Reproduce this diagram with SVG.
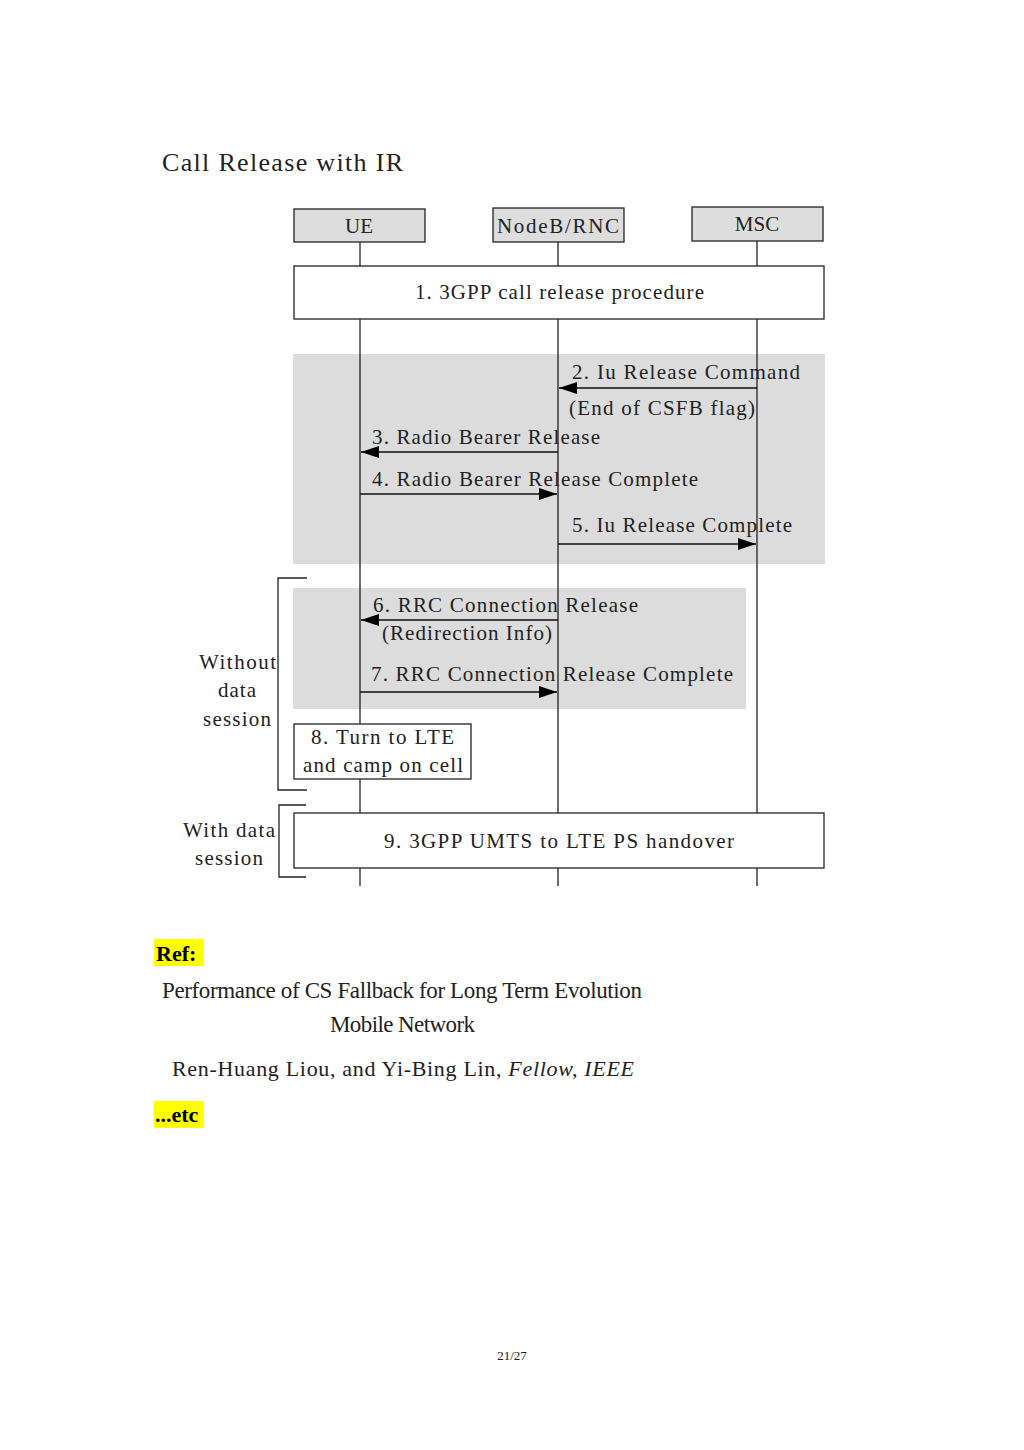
<svg xmlns="http://www.w3.org/2000/svg" width="1024" height="1450" viewBox="0 0 1024 1450">
<defs>
<marker id="ah" markerWidth="20" markerHeight="12" refX="18" refY="6" orient="auto" markerUnits="userSpaceOnUse"><path d="M0,0 L18,6 L0,12 Z" fill="#000"/></marker>
<style>
text{font-family:"Liberation Serif","DejaVu Serif",serif;fill:#222}
.t{font-size:21px}
.box{fill:#fff;stroke:#222;stroke-width:1.3}
.hd{fill:#ddd;stroke:#222;stroke-width:1.3}
.ll{stroke:#222;stroke-width:1.3;fill:none}
.msg{stroke:#111;stroke-width:1.3;marker-end:url(#ah)}
.gr{fill:#dcdcdc}
.hl{fill:#ffff00}
</style>
</defs>
<rect width="1024" height="1450" fill="#fff"/>
<text x="162" y="171" font-size="26" textLength="241">Call Release with IR</text>
<rect class="gr" x="293" y="354" width="532" height="210"/>
<rect class="gr" x="293" y="588" width="453" height="121"/>
<g id="lifelines">
<path class="ll" d="M360 242V266M360 319V724M360 779V813M360 868V886"/>
<path class="ll" d="M558 242V266M558 319V813M558 868V886"/>
<path class="ll" d="M757 241V266M757 319V813M757 868V886"/>
</g>
<g id="UE"><rect class="hd" x="294" y="209" width="131" height="33"/><text class="t" x="359" y="233" text-anchor="middle">UE</text></g>
<g id="NodeB"><rect class="hd" x="493" y="208" width="131" height="34"/><text class="t" x="497" y="233" textLength="122">NodeB/RNC</text></g>
<g id="MSC"><rect class="hd" x="692" y="207" width="131" height="34"/><text class="t" x="757" y="231" text-anchor="middle">MSC</text></g>
<g id="step1"><rect class="box" x="294" y="266" width="530" height="53"/><text class="t" x="415" y="299" textLength="289">1. 3GPP call release procedure</text></g>
<g id="step8"><rect class="box" x="294" y="724" width="177" height="55"/><text class="t" x="311" y="744" textLength="143">8. Turn to LTE</text><text class="t" x="303" y="772" textLength="160">and camp on cell</text></g>
<g id="step9"><rect class="box" x="294" y="813" width="530" height="55"/><text class="t" x="384" y="848" textLength="350">9. 3GPP UMTS to LTE PS handover</text></g>
<g id="connectors">
<line class="msg" x1="757" y1="388" x2="559" y2="388"/>
<line class="msg" x1="558" y1="452" x2="361" y2="452"/>
<line class="msg" x1="360" y1="494" x2="557" y2="494"/>
<line class="msg" x1="558" y1="544" x2="756" y2="544"/>
<line class="msg" x1="558" y1="620" x2="361" y2="620"/>
<line class="msg" x1="360" y1="692" x2="557" y2="692"/>
</g>
<g id="labels">
<text class="t" x="572" y="379" textLength="228">2. Iu Release Command</text>
<text class="t" x="569" y="415" textLength="186">(End of CSFB flag)</text>
<text class="t" x="372" y="444" textLength="228">3. Radio Bearer Release</text>
<text class="t" x="372" y="486" textLength="326">4. Radio Bearer Release Complete</text>
<text class="t" x="572" y="532" textLength="220">5. Iu Release Complete</text>
<text class="t" x="373" y="612" textLength="265">6. RRC Connection Release</text>
<text class="t" x="382" y="640" textLength="170">(Redirection Info)</text>
<text class="t" x="371" y="681" textLength="362">7. RRC Connection Release Complete</text>
</g>
<g id="brackets">
<path class="ll" d="M307 578H278V790H307"/>
<path class="ll" d="M306 805H279V877H306"/>
<text class="t" x="199" y="669" textLength="77">Without</text>
<text class="t" x="218" y="697" textLength="38">data</text>
<text class="t" x="203" y="726" textLength="68">session</text>
<text class="t" x="183" y="837" textLength="92">With data</text>
<text class="t" x="195" y="865" textLength="68">session</text>
</g>
<rect class="hl" x="154" y="939" width="50" height="27"/>
<text x="156" y="961" font-size="22" font-weight="bold" style="fill:#000">Ref:</text>
<text x="162" y="998" font-size="23" textLength="480" style="fill:#222">Performance of CS Fallback for Long Term Evolution</text>
<text x="330" y="1032" font-size="23" textLength="145" style="fill:#222">Mobile Network</text>
<text x="172" y="1076" font-size="22" textLength="462">Ren-Huang Liou, and Yi-Bing Lin, <tspan font-style="italic">Fellow, IEEE</tspan></text>
<rect class="hl" x="154" y="1101" width="50" height="27"/>
<text x="155" y="1122" font-size="22" font-weight="bold" style="fill:#000">...etc</text>
<text x="512" y="1360" font-size="13" text-anchor="middle">21/27</text>
</svg>
